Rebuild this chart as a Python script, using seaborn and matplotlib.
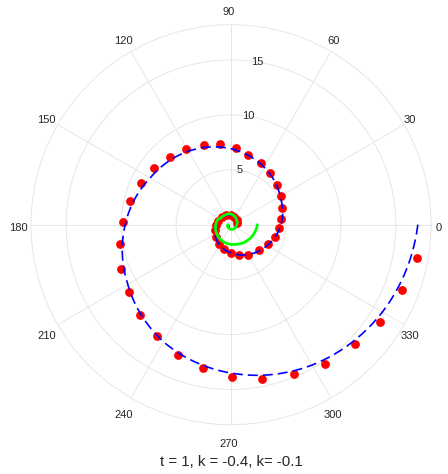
"""Spirale polaire : courbe théorique, points mesurés et spirale interne."""

import matplotlib

matplotlib.use("Agg")
import matplotlib.pyplot as plt
import numpy as np
import seaborn as sns


# angles déroulés (degrés) et rayons
theta_ligne = [360, 330, 300, 270, 240, 210, 180, 150, 120, 90, 60, 30, 0,
               -30, -60, -90, -120, -150, -180, -210, -240, -270, -300, -330,
               -360, -450, -540]
r_ligne = [17.0, 15.9, 14.75, 13.5, 12.3, 10.85, 9.63, 8.5, 7.73, 6.91, 6.04, 5.17, 4.56,
           3.79, 3.12, 2.56, 2.1, 1.69, 1.38, 1.13, 0.97, 0.82, 0.67, 0.56,
           0.46, 0.31, 0.2]

theta_points = [350, 339, 327, 316, 304, 293, 281.5, 270.5, 259, 248, 236.5, 225,
                213.5, 202, 190, 178.5, 166.5, 155, 143.5, 132, 120.5, 109, 98,
                86.5, 76, 64, 53, 41, 30, 18.5, 7, -4.5, -15.5, -28, -42, -60,
                -75, -90, -107, -122, -140, -160, -178, -198, -220, -243, -268,
                -293, -318, -345]
r_points = [17.2, 16.7, 16.2, 15.67, 15.26, 14.75, 14.34, 13.82, 13.31, 12.8, 12.19, 11.67,
            11.16, 10.75, 10.24, 9.83, 9.42, 9.01, 8.7, 8.29, 7.99, 7.68, 7.37,
            6.96, 6.55, 6.25, 5.94, 5.53, 5.22, 4.92, 4.61, 4.4, 4.15, 3.79, 3.48, 3.17,
            2.87, 2.56, 2.28, 2.03, 1.76, 1.52, 1.36, 1.23, 1.11, 0.99, 0.88,
            0.78, 0.69, 0.59]

theta_vert = [0, -36, -75, -103, -137, -155, -200, -212, -238, -270, -315, -360,
              -405, -450, -540]
r_vert = [2.4, 2.13, 1.85, 1.74, 1.59, 1.5, 1.3, 1.12, 1.04, 0.98, 0.69, 0.52,
          0.47, 0.42, 0.3]

r_ticks = [5, 10, 15]
theta_ticks = list(range(0, 360, 30))
theta_labels = [str(a) for a in theta_ticks]
titre = "t = 1, k = -0.4, k= -0.1"

sns.set_style("white")
plt.rcParams["font.family"] = ["Liberation Sans", "DejaVu Sans"]

fig = plt.figure(figsize=(4.48, 4.74), dpi=100)
ax = fig.add_axes([0.0692, 0.104, 0.8929, 0.8439], projection="polar")

sns.scatterplot(x=np.deg2rad(theta_points), y=r_points, ax=ax,
                color="#ff0000", s=40, linewidth=0, zorder=2)
sns.lineplot(x=np.deg2rad(theta_ligne), y=r_ligne, ax=ax, sort=False, estimator=None,
             color="#0000ff", linewidth=1.2, linestyle=(0, (6, 3)), zorder=3)
sns.lineplot(x=np.deg2rad(theta_vert), y=r_vert, ax=ax, sort=False, estimator=None,
             color="#00ff00", linewidth=2.0, solid_capstyle="round", zorder=4)

# tracer les segments en arcs dans le repère polaire
for ligne in ax.lines:
    ligne.get_path()._interpolation_steps = 40

ax.set_ylim(0, 18.2)
ax.set_thetagrids(theta_ticks, [""] * len(theta_ticks))
ax.set_rgrids(r_ticks, labels=[""] * len(r_ticks))
for val in r_ticks:
    ax.text(np.deg2rad(81), val, str(val), ha="center", va="center", fontsize=8)
for angle, lab in zip(theta_ticks, theta_labels):
    a = np.deg2rad(angle)
    ax.text(0.493 + 0.525 * np.cos(a), 0.4925 + 0.54 * np.sin(a), lab,
            transform=ax.transAxes, ha="center", va="center", fontsize=8)
ax.grid(True, color="#e6e6e6", linewidth=0.7)
ax.spines["polar"].set_color("#e6e6e6")
ax.spines["polar"].set_linewidth(0.7)
ax.set_xlabel("")
ax.set_ylabel("")

fig.text(231.5 / 448, 1 - 461.7 / 474, titre, ha="center", va="center", fontsize=10.8)

fig.savefig("out.png", dpi=100)
